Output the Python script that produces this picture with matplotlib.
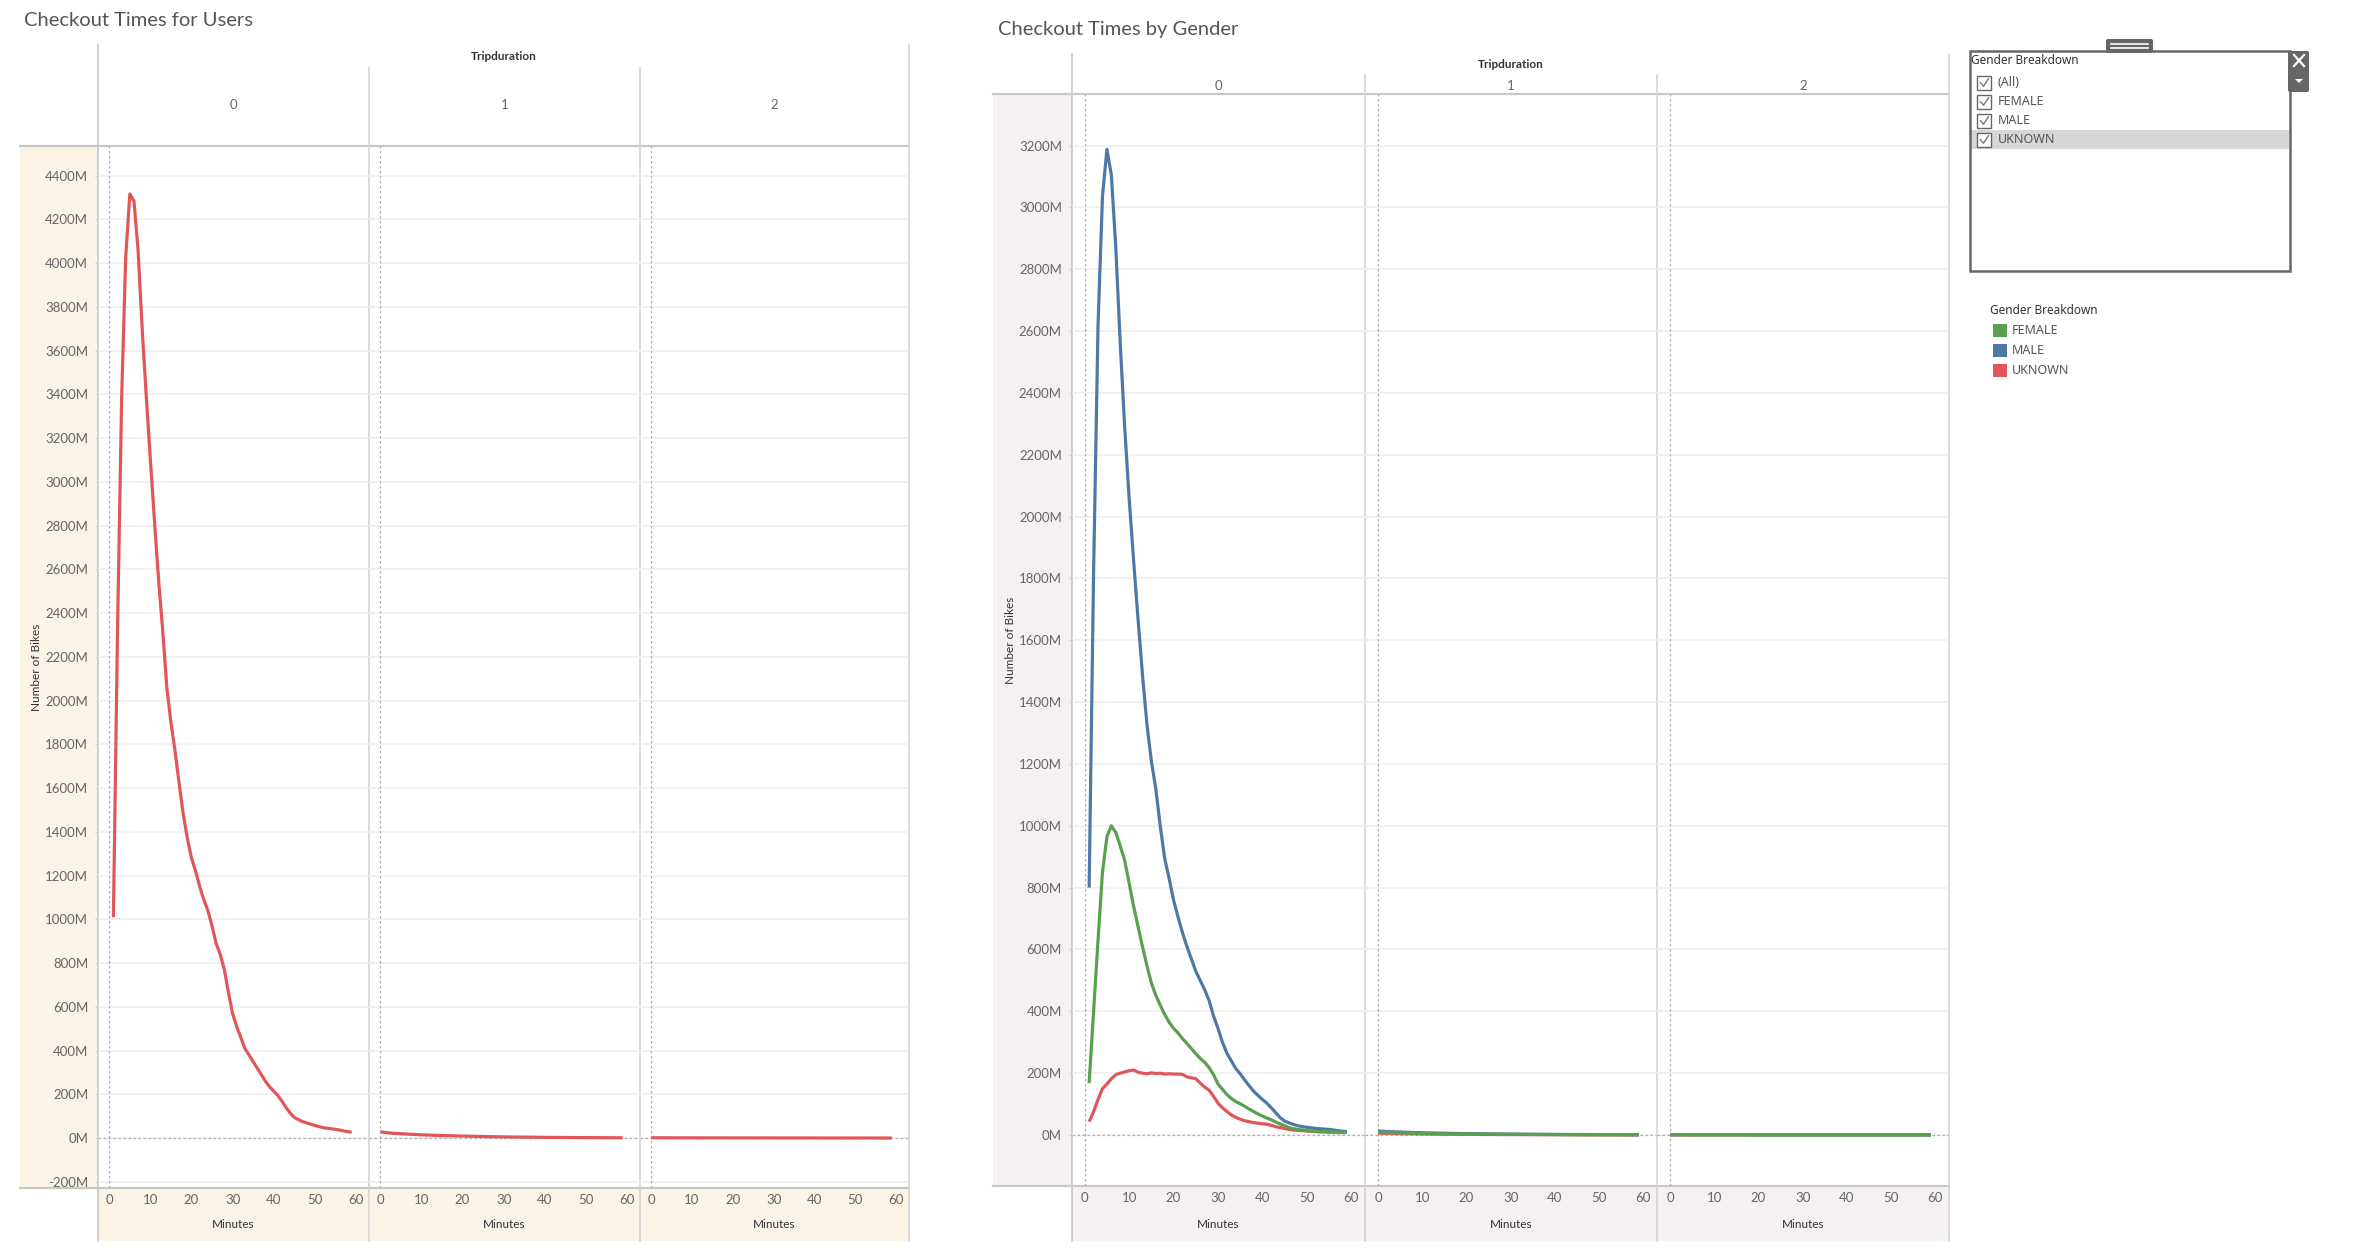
import matplotlib
matplotlib.use("Agg")
import matplotlib.pyplot as plt
from matplotlib.patches import Rectangle, FancyBboxPatch, Polygon

# ---- data (values in millions of bikes) ----
# tripduration 0 -> minutes 1..59, tripduration 1 and 2 -> minutes 0..59
minutes_0 = list(range(1, 60))
minutes_12 = list(range(0, 60))

users_0 = [1010, 2320, 3380, 4030, 4316, 4283, 4060, 3700, 3390, 3100,
           2820, 2550, 2320, 2060, 1900, 1770, 1620, 1480, 1370, 1280,
           1220, 1150, 1090, 1040, 970, 890, 840, 770, 665, 570,
           510, 460, 410, 380, 350, 320, 290, 260, 235, 215,
           195, 170, 140, 115, 95, 85, 76, 70, 64, 58,
           53, 48, 45, 43, 40, 37, 33, 30, 27]
users_1 = [29, 26, 24, 22, 21, 20, 19, 18, 17, 16,
           15, 14.5, 14, 13, 12.5, 12, 11.5, 11, 10.5, 10,
           9.5, 9, 8.6, 8.2, 7.8, 7.4, 7, 6.7, 6.4, 6.1,
           5.8, 5.5, 5.2, 5, 4.8, 4.6, 4.4, 4.2, 4, 3.8,
           3.6, 3.4, 3.2, 3.1, 3, 2.9, 2.8, 2.7, 2.6, 2.5,
           2.4, 2.3, 2.2, 2.1, 2, 1.9, 1.8, 1.7, 1.6, 1.5]
users_2 = [1.6, 1.6, 1.5, 1.5, 1.5, 1.4, 1.4, 1.4, 1.3, 1.3,
           1.3, 1.3, 1.2, 1.2, 1.2, 1.2, 1.1, 1.1, 1.1, 1.1,
           1.0, 1.0, 1.0, 1.0, 1.0, 0.9, 0.9, 0.9, 0.9, 0.9,
           0.9, 0.8, 0.8, 0.8, 0.8, 0.8, 0.8, 0.8, 0.7, 0.7,
           0.7, 0.7, 0.7, 0.7, 0.7, 0.7, 0.6, 0.6, 0.6, 0.6,
           0.6, 0.6, 0.6, 0.6, 0.6, 0.5, 0.5, 0.5, 0.5, 0.5]

male_0 = [800, 1820, 2620, 3035, 3188, 3105, 2870, 2560, 2290, 2060,
          1860, 1670, 1490, 1330, 1210, 1120, 1000, 895, 830, 760,
          705, 655, 610, 570, 530, 500, 470, 435, 385, 345,
          300, 265, 240, 215, 198, 178, 160, 142, 128, 115,
          103, 88, 72, 56, 45, 39, 34, 30, 27, 25,
          23, 21, 20, 19, 18, 16, 14, 12, 11]
female_0 = [168, 400, 630, 850, 965, 1000, 978, 935, 888, 815,
            740, 675, 610, 548, 492, 452, 420, 390, 365, 345,
            330, 312, 296, 280, 263, 248, 235, 218, 195, 165,
            148, 131, 118, 108, 101, 93, 84, 76, 68, 61,
            55, 49, 42, 36, 30, 24, 20, 18, 16, 14,
            13, 12, 11, 11, 10, 10, 9, 9, 8]
unknown_0 = [43, 75, 115, 150, 165, 182, 195, 200, 204, 208,
             210, 203, 200, 198, 201, 199, 200, 197, 198, 197,
             197, 196, 188, 185, 182, 168, 155, 145, 125, 103,
             88, 76, 65, 57, 51, 46, 43, 40, 38, 36,
             35, 31, 27, 24, 21, 18, 16, 15, 14, 13,
             12, 11, 10, 10, 9, 9, 8, 8, 8]

male_1 = [13, 12, 11, 10.5, 10, 9.5, 9, 8.5, 8, 7.6,
          7.2, 6.9, 6.6, 6.3, 6, 5.7, 5.4, 5.1, 4.9, 4.7,
          4.5, 4.3, 4.1, 3.9, 3.7, 3.5, 3.3, 3.2, 3.1, 3,
          2.9, 2.8, 2.7, 2.6, 2.5, 2.4, 2.3, 2.2, 2.1, 2,
          1.9, 1.8, 1.7, 1.65, 1.6, 1.55, 1.5, 1.45, 1.4, 1.35,
          1.3, 1.25, 1.2, 1.15, 1.1, 1.05, 1, 0.95, 0.9, 0.85]
female_1 = [9, 8.5, 8, 7.5, 7.1, 6.7, 6.3, 6, 5.7, 5.4,
            5.1, 4.9, 4.6, 4.4, 4.2, 4, 3.8, 3.6, 3.4, 3.2,
            3.1, 3, 2.9, 2.8, 2.7, 2.6, 2.5, 2.4, 2.3, 2.2,
            2.1, 2, 1.9, 1.8, 1.75, 1.7, 1.65, 1.6, 1.55, 1.5,
            1.45, 1.4, 1.35, 1.3, 1.25, 1.2, 1.15, 1.1, 1.05, 1,
            0.95, 0.9, 0.85, 0.8, 0.75, 0.7, 0.65, 0.6, 0.55, 0.5]
unknown_1 = [6, 5.6, 5.3, 5, 4.7, 4.4, 4.2, 4, 3.8, 3.6,
             3.4, 3.2, 3, 2.9, 2.8, 2.7, 2.6, 2.5, 2.4, 2.3,
             2.2, 2.1, 2, 1.9, 1.8, 1.7, 1.6, 1.55, 1.5, 1.45,
             1.4, 1.35, 1.3, 1.25, 1.2, 1.15, 1.1, 1.05, 1, 0.95,
             0.9, 0.85, 0.8, 0.75, 0.7, 0.65, 0.6, 0.58, 0.56, 0.54,
             0.52, 0.5, 0.48, 0.46, 0.44, 0.42, 0.4, 0.38, 0.35, 0.3]
male_2 = [0.8, 0.8, 0.8, 0.8, 0.7, 0.7, 0.7, 0.7, 0.7, 0.7,
          0.7, 0.6, 0.6, 0.6, 0.6, 0.6, 0.6, 0.6, 0.6, 0.5,
          0.5, 0.5, 0.5, 0.5, 0.5, 0.5, 0.5, 0.5, 0.5, 0.4,
          0.4, 0.4, 0.4, 0.4, 0.4, 0.4, 0.4, 0.4, 0.4, 0.4,
          0.4, 0.4, 0.3, 0.3, 0.3, 0.3, 0.3, 0.3, 0.3, 0.3,
          0.3, 0.3, 0.3, 0.3, 0.3, 0.3, 0.3, 0.3, 0.3, 0.3]
female_2 = [0.5, 0.5, 0.5, 0.5, 0.5, 0.5, 0.4, 0.4, 0.4, 0.4,
            0.4, 0.4, 0.4, 0.4, 0.4, 0.3, 0.3, 0.3, 0.3, 0.3,
            0.3, 0.3, 0.3, 0.3, 0.3, 0.3, 0.3, 0.3, 0.3, 0.3,
            0.2, 0.2, 0.2, 0.2, 0.2, 0.2, 0.2, 0.2, 0.2, 0.2,
            0.2, 0.2, 0.2, 0.2, 0.2, 0.2, 0.2, 0.2, 0.2, 0.2,
            0.2, 0.2, 0.2, 0.2, 0.2, 0.2, 0.2, 0.2, 0.2, 0.2]
unknown_2 = [0.4, 0.4, 0.4, 0.4, 0.3, 0.3, 0.3, 0.3, 0.3, 0.3,
             0.3, 0.3, 0.3, 0.3, 0.3, 0.3, 0.2, 0.2, 0.2, 0.2,
             0.2, 0.2, 0.2, 0.2, 0.2, 0.2, 0.2, 0.2, 0.2, 0.2,
             0.2, 0.2, 0.2, 0.15, 0.15, 0.15, 0.15, 0.15, 0.15, 0.15,
             0.15, 0.15, 0.15, 0.15, 0.15, 0.15, 0.15, 0.15, 0.15, 0.15,
             0.15, 0.15, 0.15, 0.15, 0.15, 0.15, 0.15, 0.15, 0.15, 0.15]

panel_names = ['0', '1', '2']
gender_names = ['FEMALE', 'MALE', 'UKNOWN']
filter_items = ['(All)', 'FEMALE', 'MALE', 'UKNOWN']

# ---- style ----
RED = '#e15759'
BLUE = '#4e79a7'
GREEN = '#59a14f'
BEIGE = '#faf3e6'
PINK = '#f4f1f0'
BORDER = '#c8c8c8'
SEP = '#d4d4d4'
GRID = '#efefef'
ZERO = '#b0b0b0'
TXT = '#666666'
DARK = '#333333'

W, H = 2360, 1258
plt.rcParams['font.family'] = ['Lato', 'DejaVu Sans']

fig = plt.figure(figsize=(W / 100, H / 100), dpi=100)
bg = fig.add_axes([0, 0, 1, 1])
bg.set_xlim(0, W)
bg.set_ylim(H, 0)
bg.axis('off')


def frac(x0, y0, x1, y1):
    return [x0 / W, 1 - y1 / H, (x1 - x0) / W, (y1 - y0) / H]


def chart(title, title_xy, pane, x0, edges, top_out, top_in, trip_y, num_y,
          hb, pb, ab, ylab_x, xlim, ylim, yticks, panels):
    bg.text(title_xy[0], title_xy[1], title, fontsize=14.5, color='#555555',
            ha='left', va='center')
    # axis panes
    bg.add_patch(Rectangle((x0, hb), edges[0] - x0, pb - hb, color=pane, lw=0))
    bg.add_patch(Rectangle((edges[0], pb), edges[-1] - edges[0], ab - pb, color=pane, lw=0))
    bg.plot([x0, edges[-1]], [hb, hb], color=BORDER, lw=1.6)
    bg.plot([x0, edges[-1]], [pb, pb], color=BORDER, lw=1.6)
    bg.plot([edges[0], edges[0]], [top_out, ab], color=BORDER, lw=1.2)
    bg.plot([edges[-1], edges[-1]], [top_out, ab], color=SEP, lw=1.2)
    for e in edges[1:-1]:
        bg.plot([e, e], [top_in, ab], color=SEP, lw=1.2)
    # headers
    bg.text((edges[0] + edges[-1]) / 2, trip_y, 'Tripduration', fontsize=8.5,
            fontweight='bold', color=DARK, ha='center', va='center')
    for i, name in enumerate(panel_names):
        cx = (edges[i] + edges[i + 1]) / 2
        bg.text(cx, num_y, name, fontsize=9.5, color=TXT, ha='center', va='center')
        bg.text(cx, 1225, 'Minutes', fontsize=8.5, color=DARK, ha='center', va='center')
    bg.text(ylab_x, (hb + pb) / 2, 'Number of Bikes', fontsize=8.5, color=DARK,
            rotation=90, ha='center', va='center')

    for i in range(3):
        ax = fig.add_axes(frac(edges[i], hb, edges[i + 1], pb))
        ax.set_facecolor('none')
        for s in ax.spines.values():
            s.set_visible(False)
        ax.set_xlim(*xlim)
        ax.set_ylim(*ylim)
        ax.set_yticks(yticks)
        ax.grid(axis='y', color=GRID, lw=1.2)
        ax.axhline(0, color=ZERO, lw=0.9, ls=(0, (2, 2)))
        ax.axvline(0, color=ZERO, lw=0.9, ls=(0, (2, 2)))
        ax.set_xticks(range(0, 61, 10))
        ax.set_xticklabels([str(v) for v in range(0, 61, 10)])
        ax.tick_params(axis='x', length=0, pad=4.5, labelsize=9.5, labelcolor=TXT)
        if i == 0:
            ax.set_yticklabels([f'{v}M' for v in yticks])
            ax.tick_params(axis='y', length=2, color=BORDER, pad=5,
                           labelsize=9.5, labelcolor=TXT)
        else:
            ax.set_yticklabels([])
            ax.tick_params(axis='y', length=0)
        for xs, ys, c in panels[i]:
            ax.plot(xs, ys, color=c, lw=2.3, solid_capstyle='butt')


chart('Checkout Times for Users', (24, 21), BEIGE, 20, [98, 369, 640, 909],
      45, 68, 56, 105, 146, 1188, 1241, 36, (-2.75, 63.2), (-228, 4535),
      list(range(-200, 4401, 200)),
      [[(minutes_0, users_0, RED)],
       [(minutes_12, users_1, RED)],
       [(minutes_12, users_2, RED)]])

chart('Checkout Times by Gender', (998, 30), PINK, 993, [1071.6, 1365, 1657, 1949],
      54, 75, 65, 86, 94, 1186, 1241, 1010, (-2.95, 63.1), (-165, 3367),
      list(range(0, 3201, 200)),
      [[(minutes_0, unknown_0, RED), (minutes_0, male_0, BLUE), (minutes_0, female_0, GREEN)],
       [(minutes_12, unknown_1, RED), (minutes_12, male_1, BLUE), (minutes_12, female_1, GREEN)],
       [(minutes_12, unknown_2, RED), (minutes_12, male_2, BLUE), (minutes_12, female_2, GREEN)]])

# ---- filter card ----
UI = ['Noto Sans', 'DejaVu Sans']
bg.add_patch(FancyBboxPatch((2106, 39), 47, 14, boxstyle='round,pad=0,rounding_size=2',
                            color='#666666', lw=0))
for yy in (44, 47.5):
    bg.plot([2111, 2148], [yy, yy], color='white', lw=1.2)
bg.add_patch(FancyBboxPatch((2288, 51), 21, 41, boxstyle='round,pad=0,rounding_size=2',
                            color='#666666', lw=0))
bg.plot([2294, 2304], [55, 66], color='white', lw=1.6)
bg.plot([2294, 2304], [66, 55], color='white', lw=1.6)
bg.add_patch(Polygon([(2295, 79), (2303, 79), (2299, 83)], closed=True, color='white', lw=0))
bg.add_patch(Rectangle((1971, 130), 318, 18.7, color='#d6d6d6', lw=0))
bg.add_patch(Rectangle((1970, 51), 320, 220, fill=False, edgecolor='#666666', lw=1.8))
bg.text(1971, 61, 'Gender Breakdown', fontsize=8.5, color=DARK, ha='left', va='center',
        family=UI)
for k, item in enumerate(filter_items):
    yy = 82.7 + k * 19
    bg.add_patch(Rectangle((1977, yy - 7), 14, 14, facecolor='white', edgecolor='#666666', lw=1))
    bg.plot([1980.5, 1983.5, 1988.5], [yy, yy + 3.5, yy - 4], color='#777777', lw=1)
    bg.text(1998, yy, item, fontsize=9, color='#555555', ha='left', va='center', family=UI)

# ---- colour legend ----
bg.text(1990, 311, 'Gender Breakdown', fontsize=8.5, color=DARK, ha='left', va='center',
        family=UI)
for k, (name, c) in enumerate(zip(gender_names, [GREEN, BLUE, RED])):
    yy = 330 + k * 20
    bg.add_patch(Rectangle((1993, yy - 6.5), 14, 13, color=c, lw=0))
    bg.text(2012, yy, name, fontsize=9, color='#555555', ha='left', va='center', family=UI)

fig.savefig('out.png', dpi=100)
